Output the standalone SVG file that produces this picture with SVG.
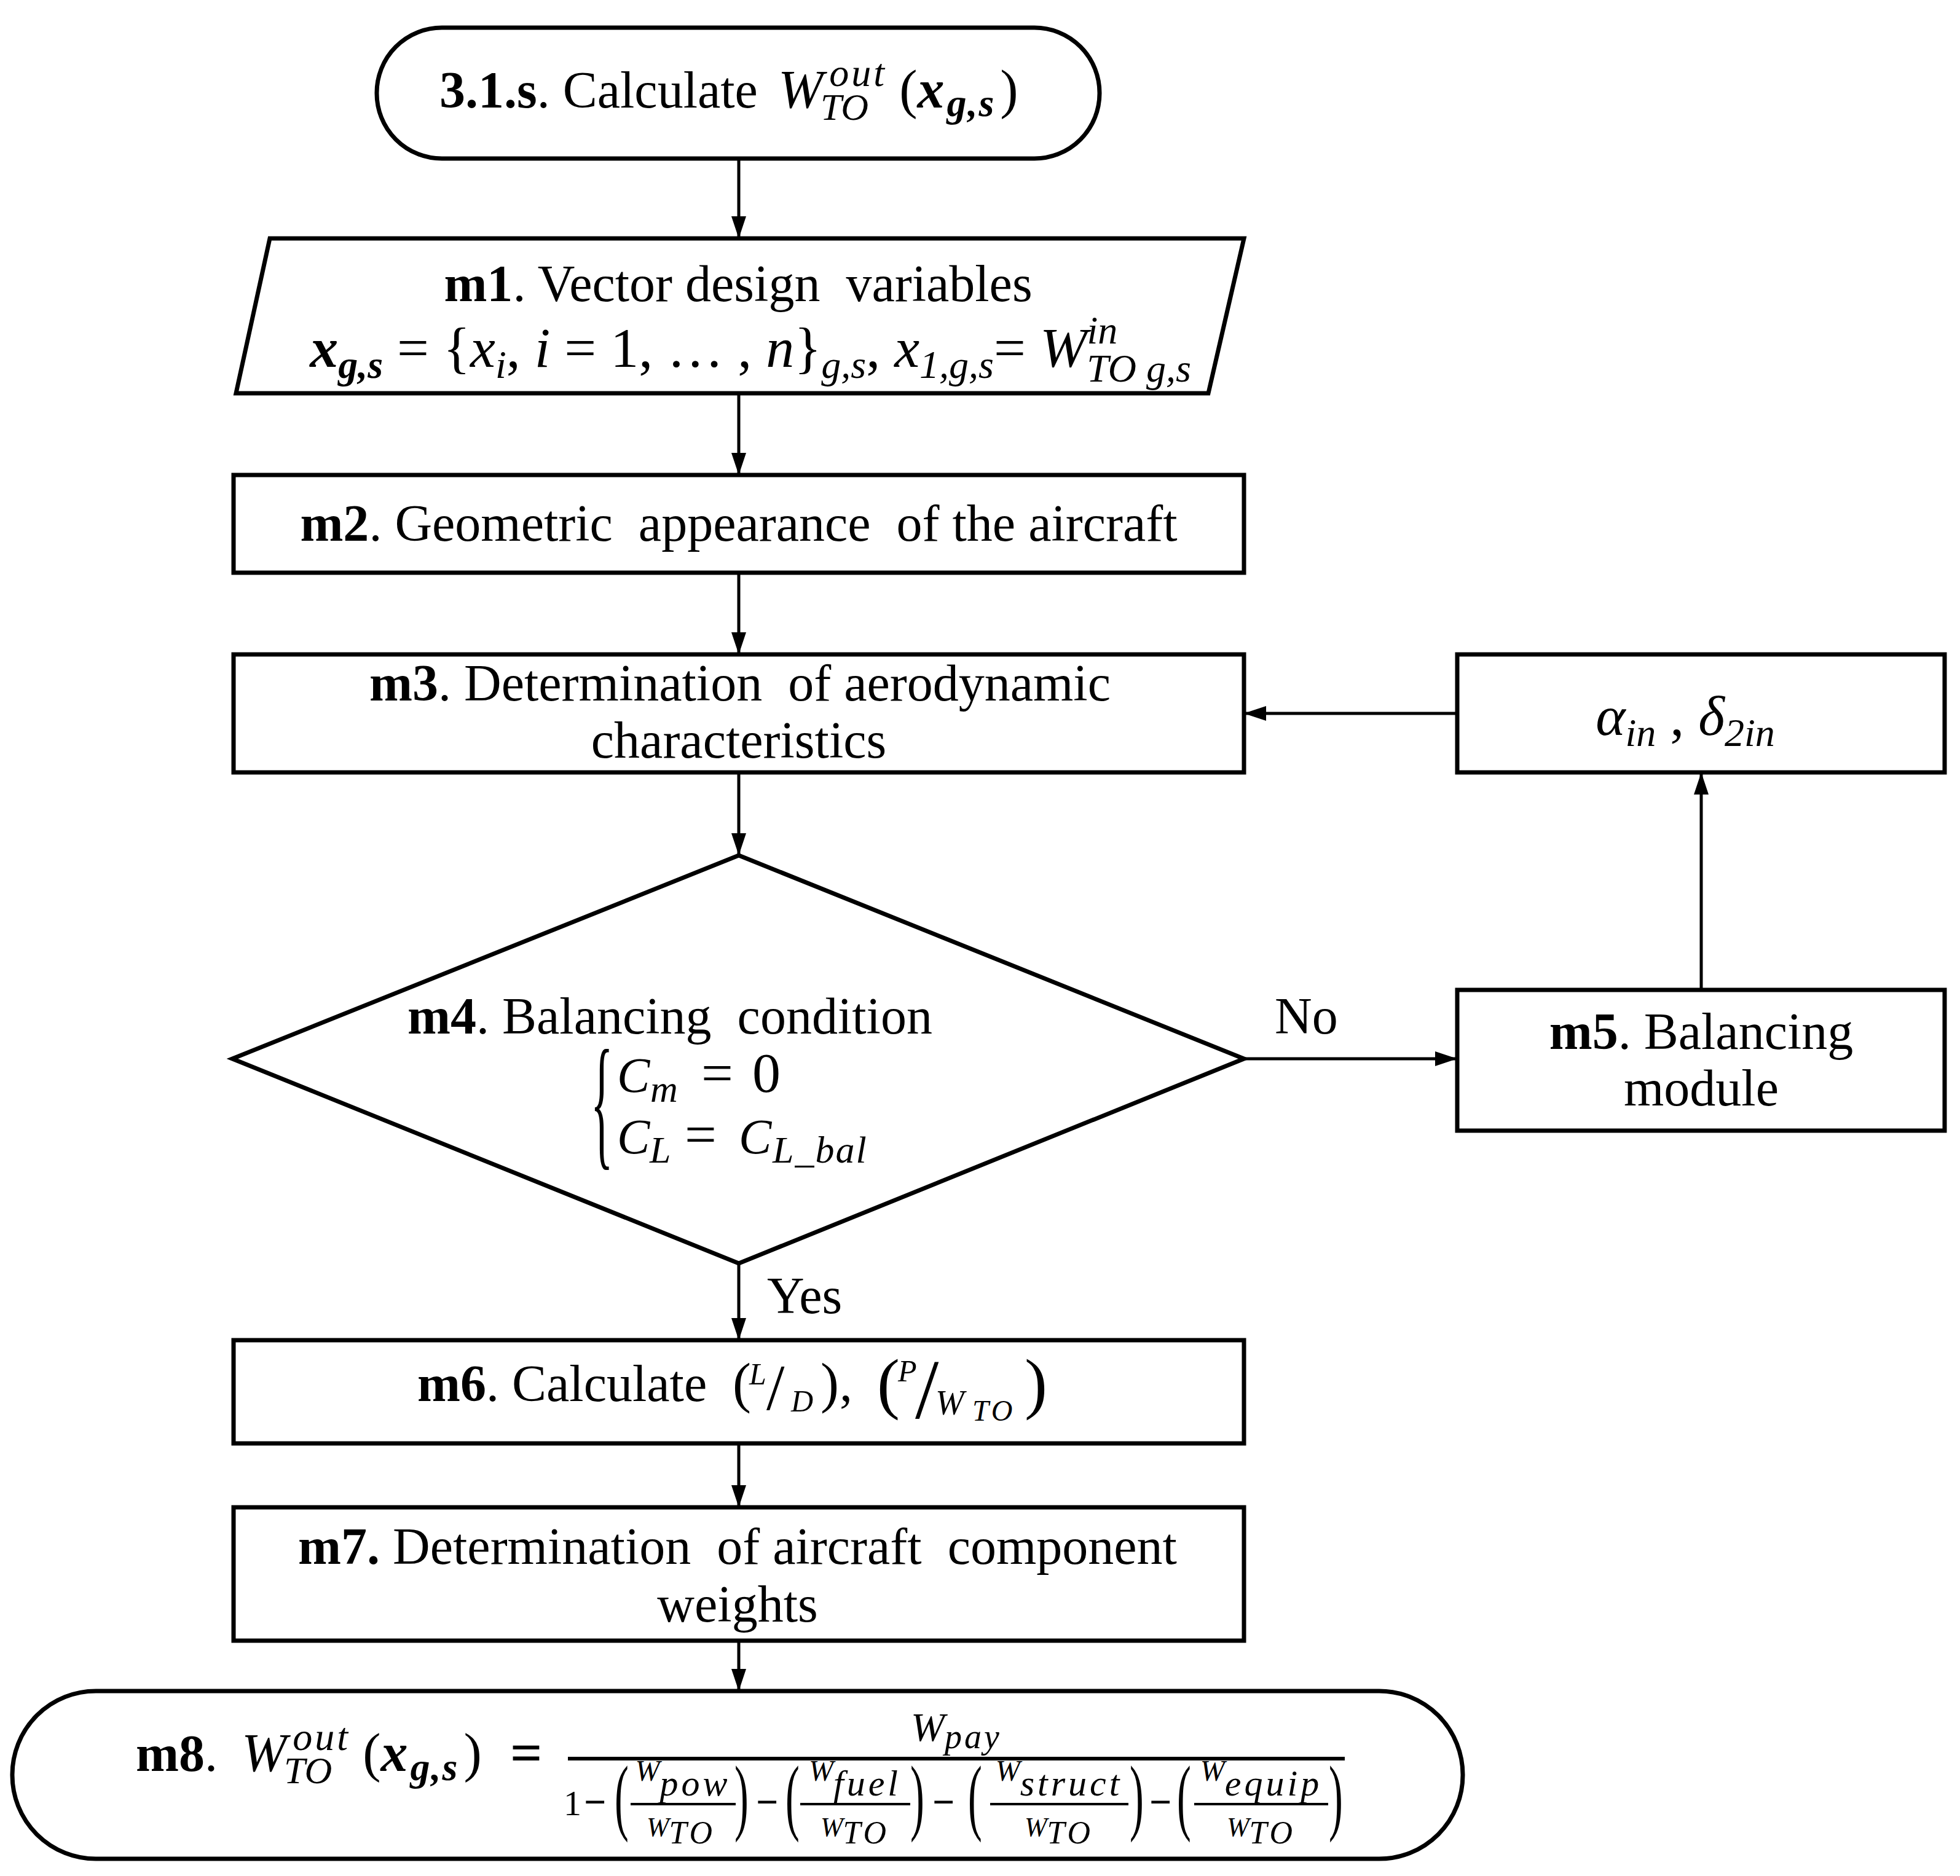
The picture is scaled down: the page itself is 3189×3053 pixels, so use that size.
<svg xmlns="http://www.w3.org/2000/svg" width="3189" height="3053" viewBox="0 0 3189 3053">
<defs>
<marker id="ah" markerUnits="userSpaceOnUse" markerWidth="38" markerHeight="24" refX="36" refY="12" orient="auto"><path d="M0,0 L36,12 L0,24 z" fill="#000"/></marker>
</defs>
<style>
.n{fill:#fff;stroke:#000;stroke-width:7}
.c{fill:none;stroke:#000;stroke-width:5;marker-end:url(#ah)}
.fb{stroke:#000;stroke-width:4}
.t{font-family:"Liberation Serif","Times New Roman",serif;font-size:84px;fill:#000}
.m{text-anchor:middle}
.b{font-weight:bold}
.i{font-style:italic}
.mx{font-size:92px}
.sx{font-size:64px}
.W{font-size:88px}
.sp{font-size:64px;letter-spacing:4px}
.sb{font-size:62px}
.ls{letter-spacing:5px}
.pr{font-size:137px}
.mn{font-size:64px;font-weight:bold}
</style>
<rect width="3189" height="3053" fill="#fff"/>

<g id="connectors">
<line class="c" x1="1202" y1="258" x2="1202" y2="388"/>
<line class="c" x1="1202" y1="640" x2="1202" y2="773"/>
<line class="c" x1="1202" y1="932" x2="1202" y2="1065"/>
<line class="c" x1="1202" y1="1257" x2="1202" y2="1392"/>
<line class="c" x1="1202" y1="2056" x2="1202" y2="2181"/>
<line class="c" x1="1202" y1="2349" x2="1202" y2="2453"/>
<line class="c" x1="1202" y1="2670" x2="1202" y2="2752"/>
<line class="c" x1="2024" y1="1723" x2="2371" y2="1723"/>
<line class="c" x1="2768" y1="1611" x2="2768" y2="1257"/>
<line class="c" x1="2371" y1="1161" x2="2024" y2="1161"/>
<text class="t" x="2074" y="1682">No</text>
<text class="t" x="1248" y="2137">Yes</text>
</g>

<g id="n31s">
<rect class="n" x="613" y="45" width="1176" height="213" rx="106" ry="106"/>
<text class="t" x="715" y="175"><tspan class="b">3.1.s</tspan>. Calculate <tspan class="i W" dx="12">W</tspan><tspan class="i sp" dx="10" dy="-35">out</tspan><tspan class="i sb" dx="-108" dy="55">TO</tspan><tspan class="W" dx="50" dy="-20">(</tspan><tspan class="b i W">x</tspan><tspan class="b i sx" style="letter-spacing:2px" dx="4" dy="14">g,s</tspan><tspan class="W" dx="8" dy="-14">)</tspan></text>
</g>

<g id="m1">
<polygon class="n" points="439,388 2024,388 1966,640 384,640"/>
<text class="t m" x="1201" y="490"><tspan class="b">m1</tspan>. Vector design&#160; variables</text>
<text class="t m" x="1221" y="597"><tspan class="b i mx">x</tspan><tspan class="b i sx" dy="18">g,s</tspan><tspan class="mx" dy="-18"> = {</tspan><tspan class="i mx">x</tspan><tspan class="i sx" dy="18">i</tspan><tspan class="mx" dy="-18">, </tspan><tspan class="i mx">i</tspan><tspan class="mx"> = 1, … , </tspan><tspan class="i mx">n</tspan><tspan class="mx">}</tspan><tspan class="i sx" dy="18">g,s</tspan><tspan class="mx" dy="-18">, </tspan><tspan class="i mx">x</tspan><tspan class="i sx" dy="18">1,g,s</tspan><tspan class="mx" dy="-18">= </tspan><tspan class="i mx">W</tspan><tspan class="i sx" dy="-38">in</tspan><tspan class="i sx" dx="-50" dy="62">TO g,s</tspan></text>
</g>

<g id="m2">
<rect class="n" x="380" y="773" width="1644" height="159"/>
<text class="t m" x="1202" y="880"><tspan class="b">m2</tspan>. Geometric&#160; appearance&#160; of the aircraft</text>
</g>

<g id="m3">
<rect class="n" x="380" y="1065" width="1644" height="192"/>
<text class="t m" x="1204" y="1140"><tspan class="b">m3</tspan>. Determination&#160; of aerodynamic</text>
<text class="t m" x="1202" y="1233">characteristics</text>
</g>

<g id="alpha">
<rect class="n" x="2371" y="1065" width="793" height="192"/>
<text class="t m" x="2742" y="1196"><tspan class="i mx">α</tspan><tspan class="i sx" dy="18">in</tspan><tspan class="mx" dy="-18"> , </tspan><tspan class="i mx">δ</tspan><tspan class="i sx" dy="18">2in</tspan></text>
</g>

<g id="m4">
<polygon class="n" points="1202,1392 2024,1723 1202,2056 378,1723"/>
<text class="t m" x="1090" y="1682"><tspan class="b">m4</tspan>. Balancing&#160; condition</text>
<text class="t" style="font-size:238px" transform="translate(961,1872) scale(0.32,1)">{</text>
<text class="t" y="1777"><tspan class="i" x="1004" style="font-size:80px">C</tspan><tspan class="i sb" x="1058" dy="16">m</tspan><tspan class="mx" x="1141" dy="-16">=</tspan><tspan class="mx" x="1224">0</tspan></text>
<text class="t" y="1877"><tspan class="i" x="1004" style="font-size:80px">C</tspan><tspan class="i sb" x="1057" dy="15">L</tspan><tspan class="mx" x="1114" dy="-15">=</tspan><tspan class="i" x="1202" style="font-size:80px">C</tspan><tspan class="i sb" x="1257" dy="15" style="letter-spacing:2px">L_bal</tspan></text>
</g>

<g id="m5">
<rect class="n" x="2371" y="1611" width="793" height="229"/>
<text class="t m" x="2768" y="1707"><tspan class="b">m5</tspan>. Balancing</text>
<text class="t m" x="2768" y="1799">module</text>
</g>

<g id="m6">
<rect class="n" x="380" y="2181" width="1644" height="168"/>
<text class="t" x="679" y="2280"><tspan class="b">m6</tspan>. Calculate</text>
<text class="t" x="1192" y="2281" style="font-size:90px">(</text>
<text class="t i" x="1219" y="2253" style="font-size:50px">L</text>
<text class="t" x="1247" y="2294" style="font-size:106px">/</text>
<text class="t i" x="1287" y="2297" style="font-size:50px">D</text>
<text class="t" x="1335" y="2281" style="font-size:90px">)</text>
<text class="t" x="1366" y="2280">,</text>
<text class="t" x="1427" y="2288" style="font-size:111px">(</text>
<text class="t i" x="1461" y="2248" style="font-size:50px">P</text>
<text class="t" x="1489" y="2308" style="font-size:138px">/</text>
<text class="t i" x="1522" y="2302" style="font-size:56px">W</text>
<text class="t i" x="1582" y="2312" style="font-size:48px;letter-spacing:5px">TO</text>
<text class="t" x="1667" y="2288" style="font-size:111px">)</text>
</g>

<g id="m7">
<rect class="n" x="380" y="2453" width="1644" height="217"/>
<text class="t m" x="1200" y="2545"><tspan class="b">m7.</tspan> Determination&#160; of aircraft&#160; component</text>
<text class="t m" x="1200" y="2639">weights</text>
</g>

<g id="m8">
<rect class="n" x="20" y="2752" width="2360" height="273" rx="136" ry="136"/>
<text class="t" x="221" y="2882"><tspan class="b">m8</tspan>. <tspan class="i W" dx="18">W</tspan><tspan class="i sp" dx="10" dy="-34">out</tspan><tspan class="i sb" dx="-108" dy="54">TO</tspan><tspan class="W" dx="50" dy="-20">(</tspan><tspan class="b i W">x</tspan><tspan class="b i sx" style="letter-spacing:2px" dx="4" dy="15">g,s</tspan><tspan class="W" dx="8" dy="-15">)</tspan></text>
<text class="t b" x="830" y="2883" style="font-size:92px">=</text>
<line class="fb" x1="924" y1="2862" x2="2188" y2="2862" style="stroke-width:6"/>
<text class="t m" x="1556" y="2833"><tspan class="i" font-size="66">W</tspan><tspan class="i" font-size="56" dy="12" style="letter-spacing:4px">pay</tspan></text>
<text class="t" x="917" y="2954" style="font-size:58px">1</text>
<text class="t mn" x="950" y="2954">−</text>
<text class="t pr" transform="translate(1000,2969) scale(0.5,1)">(</text>
<line class="fb" x1="1026" y1="2936" x2="1197" y2="2936"/>
<text class="t m" x="1111" y="2898"><tspan class="i" font-size="48">W</tspan><tspan class="i ls" font-size="60" dy="24">pow</tspan></text>
<text class="t m" x="1108" y="2988"><tspan class="i" font-size="44">W</tspan><tspan class="i ls" font-size="52" dy="12">TO</tspan></text>
<text class="t pr" transform="translate(1195,2969) scale(0.5,1)">)</text>
<text class="t mn" x="1230" y="2954">−</text>
<text class="t pr" transform="translate(1278,2969) scale(0.5,1)">(</text>
<line class="fb" x1="1302" y1="2936" x2="1481" y2="2936"/>
<text class="t m" x="1391" y="2898"><tspan class="i" font-size="48">W</tspan><tspan class="i ls" font-size="60" dy="24">fuel</tspan></text>
<text class="t m" x="1391" y="2988"><tspan class="i" font-size="44">W</tspan><tspan class="i ls" font-size="52" dy="12">TO</tspan></text>
<text class="t pr" transform="translate(1481,2969) scale(0.5,1)">)</text>
<text class="t mn" x="1517" y="2954">−</text>
<text class="t pr" transform="translate(1575,2969) scale(0.5,1)">(</text>
<line class="fb" x1="1611" y1="2936" x2="1836" y2="2936"/>
<text class="t m" x="1723" y="2898"><tspan class="i" font-size="48">W</tspan><tspan class="i ls" font-size="60" dy="24">struct</tspan></text>
<text class="t m" x="1723" y="2988"><tspan class="i" font-size="44">W</tspan><tspan class="i ls" font-size="52" dy="12">TO</tspan></text>
<text class="t pr" transform="translate(1838,2969) scale(0.5,1)">)</text>
<text class="t mn" x="1870" y="2954">−</text>
<text class="t pr" transform="translate(1915,2969) scale(0.5,1)">(</text>
<line class="fb" x1="1943" y1="2936" x2="2161" y2="2936"/>
<text class="t m" x="2052" y="2898"><tspan class="i" font-size="48">W</tspan><tspan class="i ls" font-size="60" dy="24">equip</tspan></text>
<text class="t m" x="2052" y="2988"><tspan class="i" font-size="44">W</tspan><tspan class="i ls" font-size="52" dy="12">TO</tspan></text>
<text class="t pr" transform="translate(2162,2969) scale(0.5,1)">)</text>
</g>
</svg>
